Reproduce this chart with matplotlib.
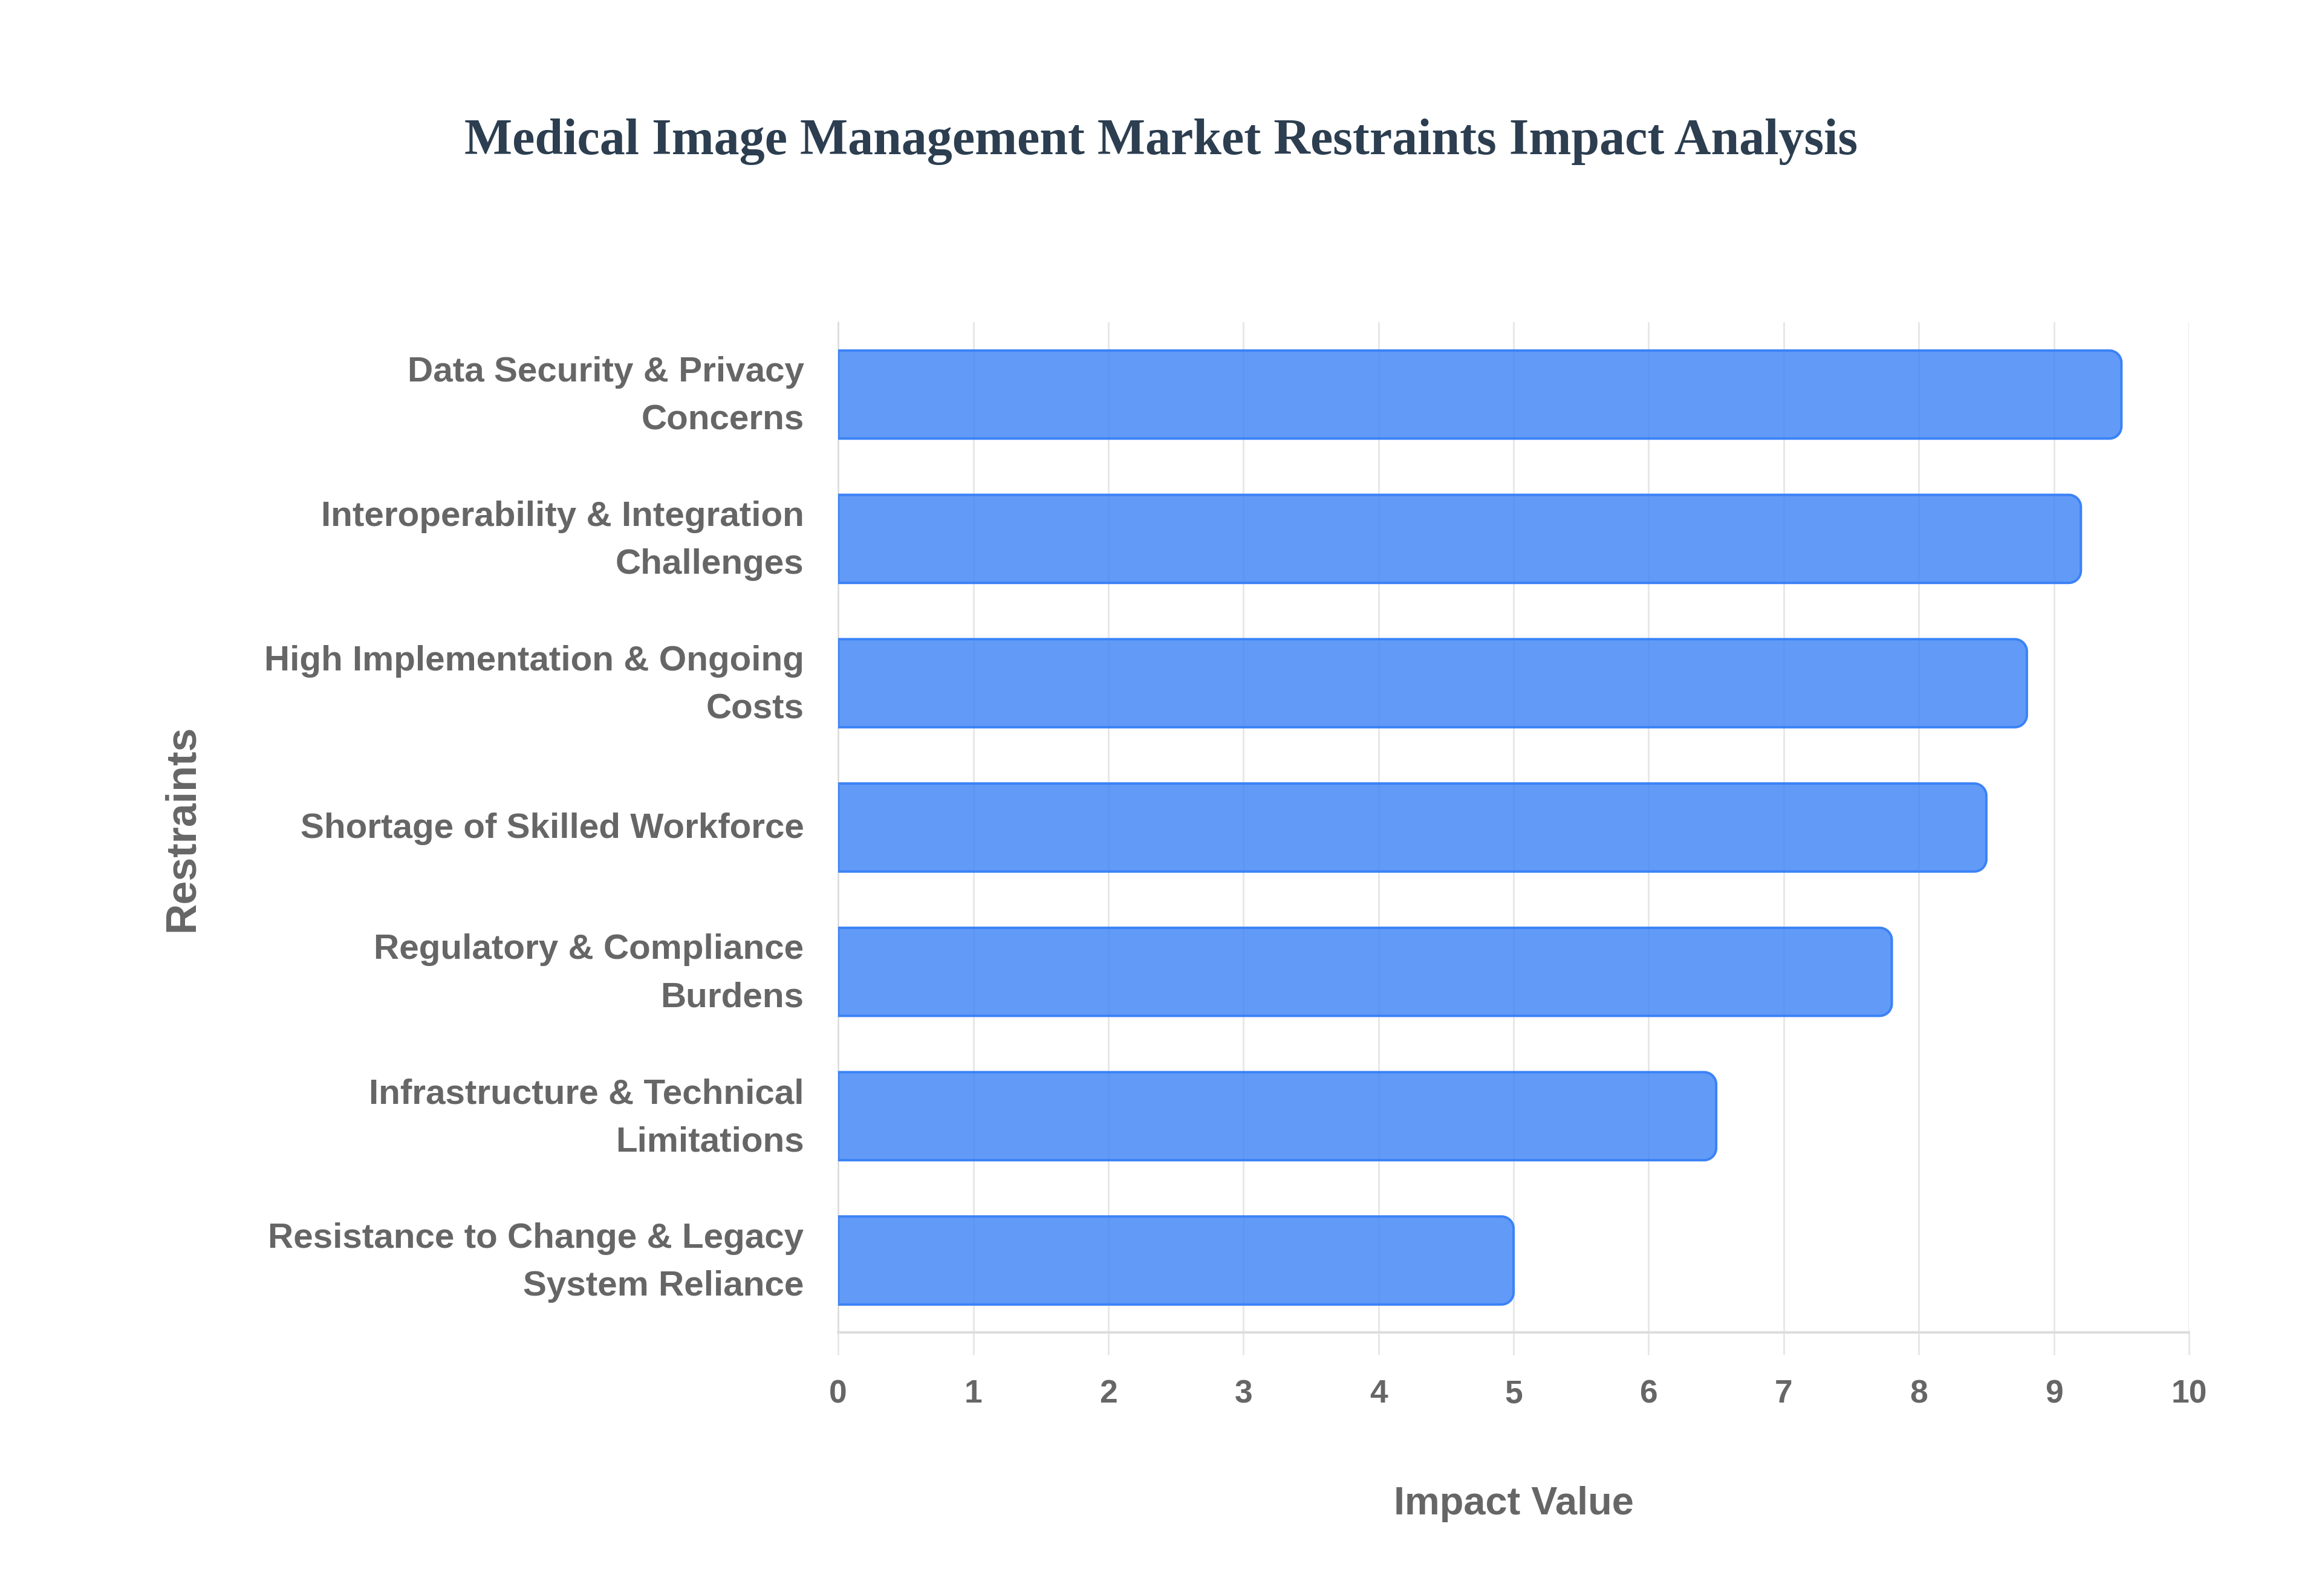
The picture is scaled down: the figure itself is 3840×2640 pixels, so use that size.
import matplotlib
matplotlib.use("Agg")
import matplotlib.pyplot as plt
from matplotlib.path import Path
from matplotlib.patches import PathPatch
import numpy as np

# ==========================================
# DATA
# ==========================================

restraints = [
    "Data Security & Privacy\nConcerns",
    "Interoperability & Integration\nChallenges",
    "High Implementation & Ongoing\nCosts",
    "Shortage of Skilled Workforce",
    "Regulatory & Compliance\nBurdens",
    "Infrastructure & Technical\nLimitations",
    "Resistance to Change & Legacy\nSystem Reliance",
]
impact = [9.5, 9.2, 8.8, 8.5, 7.8, 6.5, 5.0]
x_ticks = [0, 1, 2, 3, 4, 5, 6, 7, 8, 9, 10]

# ==========================================
# STYLE
# ==========================================

label_font = ["Liberation Sans", "DejaVu Sans"]
title_font = ["Liberation Serif", "DejaVu Serif"]

bar_face = (59 / 255, 130 / 255, 246 / 255, 0.8)
bar_edge = "#3B82F6"
grid_col = "#E5E5E5"
text_col = "#666666"

fig = plt.figure(figsize=(16, 11), dpi=240)
ax = fig.add_axes([0.361, 0.165, 0.5817, 0.633])

ax.set_xlim(0, 10)
ax.set_ylim(len(restraints) - 0.5, -0.5)

# rounded right corners, radius given in pixels
def rounded_bar(ax, y, w, h, r_px):
    px_x = ax.bbox.width / 10.0
    px_y = ax.bbox.height / len(restraints)
    rx = r_px / px_x
    ry = r_px / px_y
    top = y - h / 2
    bot = y + h / 2
    t = np.linspace(0, np.pi / 2, 12)
    verts = [(0, top), (w - rx, top)]
    for a in t:
        verts.append((w - rx + rx * np.sin(a), top + ry - ry * np.cos(a)))
    verts.append((w, bot - ry))
    for a in t:
        verts.append((w - rx + rx * np.cos(a), bot - ry + ry * np.sin(a)))
    verts.append((0, bot))
    verts.append((0, top))
    codes = [Path.MOVETO] + [Path.LINETO] * (len(verts) - 2) + [Path.CLOSEPOLY]
    patch = PathPatch(Path(verts, codes), facecolor=bar_face, edgecolor=bar_edge,
                      linewidth=1.2, zorder=3)
    ax.add_patch(patch)

for i, v in enumerate(impact):
    rounded_bar(ax, i, v, 0.61, 20)

# ==========================================
# AXES
# ==========================================

ax.set_xticks(x_ticks)
ax.set_xticklabels([str(t) for t in x_ticks], family=label_font,
                   fontsize=16, fontweight="bold", color=text_col)
ax.set_yticks(range(len(restraints)))
ax.set_yticklabels([])

# category labels, drawn by hand so they sit centred on the bars
for i, name in enumerate(restraints):
    dy = -1 if "\n" in name else -0.7
    ax.annotate(name, xy=(0, i), xycoords=("axes fraction", "data"),
                xytext=(-17, dy), textcoords="offset points",
                ha="right", va="center", multialignment="right",
                family=label_font, fontsize=17.5, fontweight="bold",
                color=text_col, linespacing=1.6)

ax.grid(axis="x", color=grid_col, linewidth=0.8, zorder=0)
ax.set_axisbelow(True)
ax.tick_params(axis="x", length=11, width=0.8, color=grid_col, pad=12)
ax.tick_params(axis="y", length=0)

for s in ["top", "right"]:
    ax.spines[s].set_visible(False)
ax.spines["left"].set_color("#DDDDDD")
ax.spines["bottom"].set_color("#DDDDDD")
ax.spines["left"].set_linewidth(0.8)
ax.spines["bottom"].set_linewidth(1.2)

ax.set_xlabel("Impact Value", family=label_font, fontsize=19.5,
              fontweight="bold", color=text_col, labelpad=38)
fig.text(0.0785, 0.481, "Restraints", rotation=90, family=label_font,
         fontsize=21, fontweight="bold", color=text_col,
         ha="center", va="center")

fig.text(0.5, 0.911, "Medical Image Management Market Restraints Impact Analysis",
         family=title_font, fontsize=25.2, fontweight="bold", color="#2C3E50",
         ha="center", va="center")

fig.savefig("out.png", dpi=240, facecolor="white")
